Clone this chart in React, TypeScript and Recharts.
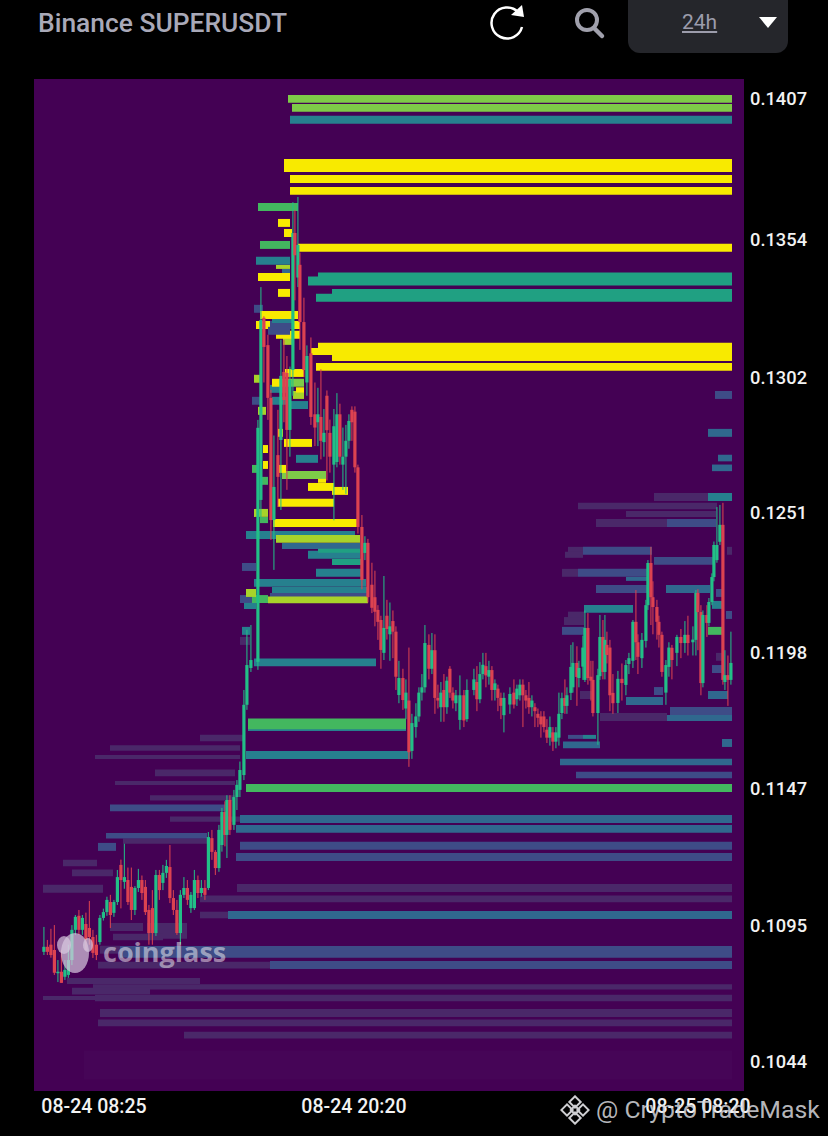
import React from "react";
import { ComposedChart, Bar, XAxis, YAxis, ReferenceArea } from "recharts";

// Prices are in units of 0.0001 USDT, times in minutes on the chart's own time scale.
const priceTicks = [1407, 1354, 1302, 1251, 1198, 1147, 1095, 1044];
const timeTicks = [120, 640, 1328];
const timeLabels = ["08-24 08:25", "08-24 20:20", "08-25 08:20"];

type Row = [number, number, number, number, number];
type Band = [number, number, number, number];

// [time, open, close, high, low]
const rampCandles: Row[] = [
  [20,1085.2,1087.1,1094.6,1084],[27,1087.1,1085.2,1089.7,1084],[34,1087.9,1084,1093.9,1083],[41,1085.9,1077.3,1095.3,1076.5],
  [48,1077.3,1077.7,1082.1,1073.8],[55,1077.7,1073.5,1085.9,1073.5],[62,1075.8,1078.4,1082.1,1074.6],[69,1076.5,1082.1,1087.9,1075.4],
  [76,1082.1,1093.5,1095.3,1080.2],[83,1093.5,1098.4,1099.1,1091.6],[90,1098.8,1093.5,1101,1091.6],[97,1093.5,1098,1099.1,1091.6],
  [104,1095.7,1089.7,1100,1085.9],[111,1094.2,1090.8,1104.4,1087.9],[118,1090.8,1084.8,1093.5,1082.9],[125,1087.9,1084,1091.6,1082.1],
  [132,1088.9,1098,1099.1,1087.9],[139,1098,1100.2,1101.5,1097],[146,1100.2,1104.8,1106,1098.8],[153,1104,1099.1,1106.7,1094.2],
  [160,1099.9,1104,1104.8,1098.4],[167,1104,1113.4,1116.1,1102.9],[174,1118,1112.3,1120,1101.6],[181,1111.6,1113.4,1126,1109],
  [188,1112.3,1104,1117,1102.9],[195,1109.7,1101,1117,1097.2],[202,1101,1109.3,1110,1099.1],[209,1109.3,1112.3,1116.5,1107.8],
  [216,1112.3,1107.4,1114,1104.8],[223,1109.7,1100.2,1112.3,1099.1],[230,1101,1092.3,1102.9,1087.9],[237,1101.7,1092.3,1108.5,1087.9],
  [244,1092.3,1114.2,1116.1,1091.2],[251,1114.2,1108.5,1116.1,1104.8],[258,1111.2,1115,1118,1108.5],[265,1115,1117.6,1119.9,1113.1],
  [272,1117.2,1105.5,1125.5,1103.6],[279,1105.5,1101,1108.5,1099.1],[286,1101,1092.3,1104.8,1091.6],[293,1092.3,1106.7,1108.5,1087.9],
  [300,1106.7,1109.3,1113.4,1105.5],[307,1109.3,1104.8,1112.3,1102.9],[314,1101.7,1106.7,1107.8,1099.9],[321,1101.7,1112.3,1116.1,1101],
  [328,1112.3,1107.4,1114,1105.5],[335,1107.4,1109.3,1112.3,1106],[342,1109.3,1106.7,1112.3,1104.8],[349,1109.3,1128.5,1130.4,1108.5],
  [356,1128.1,1122.9,1131.2,1119.9],[363,1122.9,1116.8,1123.6,1114.2],[370,1116.8,1131.2,1133.1,1115.4],[376,1125.5,1138,1139.5,1123],
  [382,1138,1129.3,1142,1125],[386,1129.3,1142.5,1144.3,1120.6],[392,1142.5,1131.2,1144.3,1129.3],[400,1133.1,1143.6,1146.3,1131.2],
  [406,1143.6,1148.2,1150,1138.7],[412,1146.3,1153.8,1157,1143.6],[420,1151.9,1178.4,1184,1150],[426,1178.4,1193.4,1206.7,1176.5],
  [434,1192.3,1195.3,1208.5,1190.8],
];

const spikeCandles: Row[] = [
  [448,1194.6,1282.9,1285.9,1191.6],[454,1255.7,1323.6,1336,1249],[460,1324.4,1313.4,1325,1300],[468,1314.1,1294.2,1318,1285.9],
  [474,1294.2,1248.1,1297.2,1240.6],[480,1248.1,1260.6,1280,1229.3],[488,1272.6,1264.4,1289.7,1253],[494,1278.3,1302.5,1316.1,1251.9],
  [500,1304,1293.4,1316.1,1285],[506,1303.6,1282.1,1310,1259.5],[512,1282.1,1301,1306,1272],[518,1304.7,1356.4,1368,1295],
  [522,1356.4,1348,1365,1331],[528,1339.6,1351.9,1370,1336],[532,1344.4,1322.8,1349,1312.3],[540,1322.8,1304.7,1332,1302],
  [546,1300,1310,1314,1295],[554,1311,1287,1317,1284],[562,1288,1283,1300,1276],[568,1285,1288,1298,1276],
  [574,1287,1278,1305,1271],[580,1277.5,1281,1290,1272],[586,1295,1282,1297,1263],[592,1281,1272,1286,1266],
  [600,1269,1283.5,1290,1248],[606,1270,1288,1296,1268],[612,1288,1272,1292,1269],[618,1269,1272,1283,1259.5],
  [624,1272,1278,1284,1258],[630,1278,1285.5,1288,1275],[636,1289.7,1285,1291,1278],[642,1289,1268,1291,1266],
  [648,1268,1245.5,1269,1243],[656,1245.5,1225.5,1250,1222],[662,1235.7,1239.5,1242,1233],[668,1239.5,1219,1241,1217],
  [676,1223.7,1215,1232,1213],[682,1219,1213.5,1229,1208],[688,1214.2,1209.7,1216,1202.9],[694,1210.4,1199.1,1212,1192],
  [700,1198,1207.4,1227,1195.3],[706,1212,1207,1218,1203],[712,1205,1208,1217,1195],[718,1210,1206,1214,1196],
  [724,1206,1189,1208,1184],
];

const rangeCandles: Row[] = [
  [730,1182.1,1188.5,1195,1179],[738,1188.5,1180.2,1192,1176.5],[744,1177,1183,1188,1173],[750,1180,1160.5,1200,1155],
  [756,1161,1171.5,1175,1158],[764,1170,1174,1179,1166],[770,1174,1183,1185,1172],[776,1183,1185,1190,1180],
  [782,1185,1201.7,1208.5,1183],[790,1201,1192,1205,1188],[796,1192,1199,1205.5,1190],[802,1199,1181,1205,1175],
  [808,1181,1180,1186,1177],[814,1177.5,1183,1187,1172],[820,1184,1177.5,1190,1172],[826,1177.5,1187.5,1189,1175],
  [832,1192,1183,1193,1181],[838,1183,1180,1185,1177],[844,1179,1182,1184,1176],[852,1172.7,1182,1189.5,1169],
  [860,1182,1172.5,1184,1170],[866,1173,1184,1188,1172],[880,1184,1188,1192,1182],[886,1187,1180.5,1193,1176],
  [892,1180.5,1190,1194.5,1179],[898,1190,1193.5,1198,1188],[904,1193,1189.5,1198,1185],[910,1189,1191.5,1195,1186],
  [916,1191.5,1184,1193,1180],[922,1184,1186.5,1188,1180],[928,1184.5,1181,1186,1176],[934,1181,1178,1183,1173],
  [940,1174.5,1181,1183,1168],[952,1178.5,1182.5,1185,1175],[960,1183,1178.5,1188,1177],[966,1180.5,1184.5,1186,1178],
  [972,1182,1186,1188,1180],[978,1186,1182,1188,1170],[984,1182,1180,1184,1177],[990,1181,1177.5,1187,1175],
  [996,1177.5,1180,1182,1174],[1002,1177.5,1176,1179,1170],[1008,1175,1173.5,1177,1170],[1014,1174,1171,1176,1166],
  [1020,1174,1170,1176,1168],[1026,1169,1166,1173,1164],[1032,1166,1170,1174,1163],[1038,1168,1164.5,1170,1161],
  [1044,1164.5,1168,1170,1162],
];

const reboundCandles: Row[] = [
  [1050,1166,1175,1183,1163],[1056,1175.3,1180.9,1183,1173],[1062,1181,1178,1188,1175],[1066,1178,1182,1185,1175],
  [1074,1182.9,1192.7,1201,1180.2],[1078,1185,1194.2,1202,1183],[1086,1194.2,1188.9,1200.5,1178],[1090,1188.5,1192.3,1195,1185],
  [1098,1192.8,1200,1204.5,1187.8],[1102,1187.8,1207.4,1214,1187],[1108,1207.4,1188.5,1213,1186],[1114,1189,1187.5,1195,1180],
  [1118,1187.8,1175.3,1195,1174],[1128,1175.3,1189.6,1192,1163.3],[1132,1189.2,1204,1212.3,1187.8],[1138,1204,1190.8,1210.4,1188],
  [1142,1190.8,1202.9,1212.3,1188],[1146,1201,1197.2,1206,1194],[1152,1200,1182,1202.9,1176],[1158,1182.9,1179,1190,1175],
  [1168,1179.1,1188.2,1191.2,1175.3],[1176,1188.2,1186.6,1194,1180],[1184,1185.9,1193.4,1195.3,1182],[1190,1193.8,1196,1198,1190],
  [1198,1195,1209.7,1210.4,1192.3],[1204,1209.7,1202,1221.7,1195.3],[1208,1202,1196.5,1205,1190],[1216,1196,1202.9,1205.5,1192.3],
  [1224,1202.5,1216,1218,1200],[1228,1216,1231.9,1233,1214.2],[1234,1231.9,1219,1238,1208.5],[1238,1219,1215.3,1225,1205],
  [1246,1215.3,1209.7,1218,1203],[1250,1209.7,1204.8,1212,1200],[1256,1204.8,1190.8,1206,1189],[1264,1183,1193.4,1195.3,1178.4],
  [1270,1192.7,1200,1202,1189],[1276,1199.9,1195.3,1201,1188],[1286,1198,1204,1204.8,1193],[1294,1204,1201.7,1207,1196],
  [1302,1201.7,1204.8,1210,1198],[1308,1204.8,1201.7,1212,1197],[1318,1202,1203,1208,1197],[1324,1202.9,1220.6,1221.7,1197],
  [1328,1220.6,1213.4,1222,1199],[1334,1213.4,1186.6,1216,1182],[1338,1186.6,1212.3,1214,1185],[1346,1212.3,1209.3,1216,1204],
  [1350,1209.3,1217.2,1218.7,1208],[1356,1217.2,1226.6,1228,1216],[1360,1226.6,1238.7,1240,1225],[1366,1233,1238.7,1253,1232],
  [1372,1239.9,1246.3,1253.8,1238.7],[1378,1246.3,1187.8,1254.6,1186],[1382,1187,1189.6,1199,1184],[1388,1189.6,1187.8,1197,1178],
  [1394,1187.8,1194.2,1206,1186],
];

// Liquidity bands: [from, to, price, thickness]
const hazeBands: Band[] = [[100,1396,1042.5,11]];
const purpleBands: Band[] = [
  [412,432,1202.5,3],[1240,1348,1256.8,3],[1088,1366,1253.4,2.5],[1184,1364,1250.4,2.3],[1124,1266,1247,3],[1068,1098,1236.5,3],
  [1062,1098,1235,2.3],[1386,1396,1236.5,3],[1056,1088,1228.2,3],[1068,1100,1212.3,2.5],[1060,1100,1210,3],[1364,1378,1196.5,3],
  [1092,1118,1182.1,3],[1132,1266,1173.8,3],[152,412,1162.1,2],[332,420,1165.9,2.5],[122,412,1158.7,1.5],[242,402,1152.7,2.5],
  [162,402,1148.9,1.5],[232,402,1143.3,2],[272,412,1135.3,2],[178,346,1127,2],[58,126,1118.7,2.5],[76,158,1115,2.5],[18,138,1109,3],
  [406,1396,1109.3,3],[332,1396,1105.2,2.5],[332,388,1099.1,2.5],[152,218,1094.6,3],[226,306,1093.1,6],[158,258,1090.8,2.5],
  [132,172,1086,3],[128,472,1080.2,2.5],[66,332,1074.2,2.3],[118,1396,1072,2],[76,232,1070.4,2.5],[18,152,1067.8,1.5],
  [122,1396,1067.8,2.5],[132,1396,1062.1,3],[128,1396,1058.4,2.5],[300,1396,1053.8,2.5],
];
const slateBands: Band[] = [
  [440,458,1327.8,3],[436,452,1293.1,3],[412,1396,1125.2,3],[404,1396,1121,3],[416,444,1230.4,3],[472,668,1219.8,1.5],[412,436,1218.3,3],
  [1098,1236,1236.5,3],[1240,1358,1232.7,3],[1088,1228,1228.2,3],[1124,1226,1222.1,3],[1266,1364,1247,3],[1364,1378,1220.6,3],
  [1384,1396,1212.3,3],[1056,1100,1206.3,3],[1356,1378,1191.9,3],[1240,1258,1183.6,3],[1272,1396,1176.1,3],[1068,1098,1166.3,1.5],
  [1084,1396,1151.9,2.5],[172,1396,1085.2,4.5],[472,1396,1080.2,3],[144,346,1129,2],[128,164,1124.8,3],[152,382,1139.5,2.5],
  [1362,1396,1295.3,3],
];
const blueBands: Band[] = [
  [496,512,1341.9,2],[496,652,1238.3,2.3],[1264,1352,1222.1,3],[1184,1228,1225.9,1.5],[1184,1258,1179.8,3],[1348,1388,1182.1,3],
  [1266,1396,1173.4,2.3],[412,1396,1135.3,3],[404,1396,1131.6,3],[388,1396,1099.1,3],[1058,1132,1163.3,2.5],[1376,1396,1164,3],
  [1052,1396,1156.8,2.5],[1368,1396,1271.5,2.5],[1356,1396,1267.8,2.5],[1348,1396,1281,3],
];
const tealBands: Band[] = [
  [512,1396,1399.1,3],[444,512,1345.9,3],[472,506,1297.6,3],[476,506,1293.1,3],[512,548,1291.5,3],[524,568,1271.2,3],[424,642,1242.5,3],
  [548,652,1235,3],[564,656,1228.2,3],[440,664,1224.4,3],[476,668,1221.7,2.3],[420,444,1215.7,2.3],[416,432,1206.3,3],[440,684,1194.4,3],
  [428,744,1169.3,1.5],[424,752,1159.5,3],[1100,1198,1214.6,3],[1348,1396,1256.8,3],[1356,1378,1216.1,3],[1098,1124,1166.3,1.5],
];
const seaBands: Band[] = [
  [568,1396,1339.5,4],[548,1396,1338.3,3.4],[596,1396,1333,4.5],[564,1396,1332,3],[596,656,1232.3,2.3],[568,652,1236.5,1.5],
];
const greenBands: Band[] = [
  [428,744,1171.2,4],[424,1396,1147,3],[448,528,1366.2,3],[452,512,1351.9,3],[1348,1378,1206.3,3],[452,468,1248.1,2.3],
  [436,450,1267.4,3],[452,468,1262.9,3],[436,468,1218.3,3],
];
const leafBands: Band[] = [
  [508,1396,1407,3],[516,1396,1403.6,3],[492,540,1299.9,3],[496,584,1265.1,3],
];
const limeBands: Band[] = [
  [484,512,1343.6,1.5],[498,516,1315.7,3],[440,452,1301.4,3],[518,540,1295.3,3],[448,464,1289.3,3],[440,468,1250.8,3],
  [484,652,1241,3],[468,668,1218,2.5],[424,444,1220.6,3],
];
const yellowBands: Band[] = [
  [500,1396,1381.9,4.9],[512,1396,1376.8,3],[512,1396,1372.3,3],[528,1396,1350.8,3],[568,1396,1314,1.9],[554,1396,1311.7,2.7],
  [596,1396,1309.3,2.3],[564,1396,1305.9,3],[488,512,1360.2,3],[500,516,1356.4,3],[448,512,1339.8,3],[488,512,1333.8,3],
  [452,528,1325.5,3],[444,532,1321.7,3],[484,532,1318,3],[502,540,1303.6,3],[476,492,1299.9,3],[524,540,1297.2,2],[488,498,1281,3],
  [500,556,1277.2,3],[458,468,1274.9,3],[458,468,1268.9,3],[486,504,1267.4,3],[568,584,1262.9,1.5],[548,600,1260.6,3],[596,628,1259.1,3],
  [488,600,1254.6,3],[478,648,1247,3],
];
const topSlateBands: Band[] = [[472,516,1321.7,3],[468,512,1319.5,3]];
const topTealBands: Band[] = [[476,516,1323.2,1.5]];

const bandGroups: [Band[], string][] = [
  [hazeBands, "#460557"],
  [purpleBands, "#4a2869"],
  [slateBands, "#3e4c87"],
  [blueBands, "#30688e"],
  [tealBands, "#26808e"],
  [seaBands, "#20a082"],
  [greenBands, "#43b75f"],
  [leafBands, "#7ecb48"],
  [limeBands, "#a8d32a"],
  [yellowBands, "#f8ea00"],
  [topSlateBands, "#3e4c87"],
  [topTealBands, "#26808e"],
];

const candles = [...rampCandles, ...spikeCandles, ...rangeCandles, ...reboundCandles].map(
  ([time, open, close, high, low]) => ({ time, open, close, high, low })
);

const UP = "#22bf87";
const DOWN = "#dc4250";
const BODY_WIDTH = 3.2;

function CandleShape(props: any) {
  const { x, y, width, height, payload } = props;
  const { open, close, high, low } = payload;
  const span = Math.max(high - low, 0.001);
  const perUnit = height / span;
  const top = y + (high - Math.max(open, close)) * perUnit;
  const bodyH = Math.max(Math.abs(open - close) * perUnit, 1.5);
  const color = close >= open ? UP : DOWN;
  const center = x + width / 2;
  return (
    <g>
      <rect x={center - 0.6} y={y} width={1.2} height={height} fill={color} fillOpacity={0.85} />
      <rect x={center - BODY_WIDTH / 2} y={top} width={BODY_WIDTH} height={bodyH} fill={color} />
    </g>
  );
}

const xTickStyle = { fill: "#f2f2f2", fontSize: 19.5, fontFamily: "Roboto", fontWeight: 500 };
const yTickStyle = { fill: "#f2f2f2", fontSize: 18.3, fontFamily: "Roboto", fontWeight: 500 };

export default function App() {
  return (
    <div style={{ position: "absolute", left: 0, top: 0, width: 828, height: 1136, background: "#000", overflow: "hidden" }}>
      <ComposedChart
        width={828}
        height={1136}
        data={candles}
        margin={{ top: 79, right: 0, bottom: 0, left: 34 }}
      >
        <XAxis
          dataKey="time"
          type="number"
          domain={[0, 1420]}
          ticks={timeTicks}
          interval={0}
          height={45}
          axisLine={false}
          tickLine={false}
          tick={xTickStyle}
          tickMargin={2}
          tickFormatter={(v: number) => timeLabels[timeTicks.indexOf(v)]}
        />
        <YAxis
          type="number"
          orientation="right"
          domain={[1032.7, 1414.5]}
          ticks={priceTicks}
          interval={0}
          width={84}
          axisLine={false}
          tickLine={false}
          tick={yTickStyle}
          tickMargin={0}
          tickFormatter={(v: number) => (v / 10000).toFixed(4)}
        />
        <ReferenceArea x1={0} x2={1420} y1={1032.7} y2={1414.5} fill="#440154" fillOpacity={1} stroke="none" />
        {bandGroups.flatMap(([rows, color], g) =>
          rows.map((b, i) => (
            <ReferenceArea
              key={`${g}-${i}`}
              x1={b[0]}
              x2={b[1]}
              y1={b[2] - b[3] / 2}
              y2={b[2] + b[3] / 2}
              fill={color}
              fillOpacity={1}
              stroke="none"
            />
          ))
        )}
        <Bar
          dataKey={(d: any) => [d.low, d.high]}
          barSize={3}
          shape={CandleShape}
          isAnimationActive={false}
        />
      </ComposedChart>

      {/* header */}
      <div style={{ position: "absolute", left: 38, top: 8, color: "#a9a9b8", font: "500 26.4px Roboto", whiteSpace: "nowrap" }}>
        Binance SUPERUSDT
      </div>
      <div style={{ position: "absolute", left: 628, top: -12, width: 160, height: 65, borderRadius: 12, background: "#25262b" }} />
      <div style={{ position: "absolute", left: 682, top: 10, color: "#9c9cab", font: "400 21px Roboto", textDecoration: "underline" }}>24h</div>
      <svg width={828} height={60} style={{ position: "absolute", left: 0, top: 0 }}>
        <path d="M518 12 A15.5 15.5 0 1 0 522 27" fill="none" stroke="#fff" strokeWidth={2.5} />
        <path d="M511 15 L524 17 L522 5 Z" fill="#fff" />
        <circle cx={587} cy={20} r={10} fill="none" stroke="#a0a0ac" strokeWidth={4} />
        <path d="M594 28 L602 36" stroke="#a0a0ac" strokeWidth={4.5} strokeLinecap="round" />
        <path d="M759 17 L777 17 L768 28 Z" fill="#fff" />
      </svg>

      {/* coinglass watermark */}
      <svg width={120} height={60} style={{ position: "absolute", left: 50, top: 925 }}>
        <g fill="#d9c9e0" fillOpacity={0.7}>
          <ellipse cx={25} cy={28} rx={14} ry={20} />
          <ellipse cx={14} cy={20} rx={7} ry={9} />
          <ellipse cx={38} cy={20} rx={5} ry={7} />
        </g>
      </svg>
      <div style={{ position: "absolute", left: 103, top: 933, color: "rgba(235,235,240,0.55)", font: "700 27px 'Open Sans'", whiteSpace: "nowrap" }}>
        coinglass
      </div>

      {/* footer credit */}
      <svg width={30} height={30} style={{ position: "absolute", left: 560, top: 1095 }}>
        <g fill="none" stroke="#cfcfd2" strokeWidth={2}>
          <rect x={11} y={3} width={8} height={8} transform="rotate(45 15 7)" />
          <rect x={11} y={19} width={8} height={8} transform="rotate(45 15 23)" />
          <rect x={3} y={11} width={8} height={8} transform="rotate(45 7 15)" />
          <rect x={19} y={11} width={8} height={8} transform="rotate(45 23 15)" />
          <rect x={12} y={12} width={6} height={6} transform="rotate(45 15 15)" />
        </g>
      </svg>
      <div style={{ position: "absolute", left: 596, top: 1095, color: "rgba(215,215,220,0.85)", font: "400 24.8px Roboto", whiteSpace: "nowrap" }}>
        @ CryptoTradeMask
      </div>
    </div>
  );
}
